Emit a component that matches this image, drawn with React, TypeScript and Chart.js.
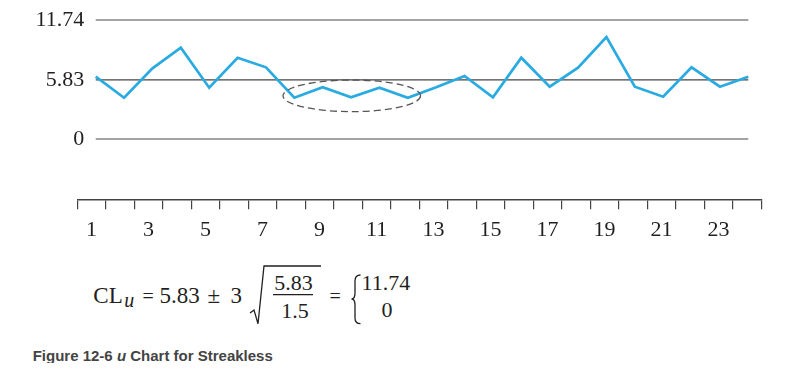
import React, { useEffect, useRef } from "react";
import { Chart, registerables } from "chart.js";

Chart.register(...registerables);

// ---- data ----
const samples = ["1","2","3","4","5","6","7","8","9","10","11","12","13","14","15","16","17","18","19","20","21","22","23","24"];
const uValues = [6.15, 4.07, 6.97, 9.01, 5.06, 8.02, 7.07, 4.07, 5.1, 4.11, 5.06, 4.07, 5.1, 6.22, 4.11, 8.02, 5.16, 7.03, 10.06, 5.16, 4.17, 7.07, 5.16, 6.15];
const centerLine = 5.83;
const upperLimit = 11.74;
const lowerLimit = 0;
const yTickValues = [0, 5.83, 11.74];
const yTickLabels = ["0", "5.83", "11.74"];
// highlighted run (samples 8–12), bounds in data units
const runBox = { xFrom: 7.6, xTo: 12.45, yFrom: 2.7, yTo: 5.82 };

const SERIF = "'Liberation Serif', 'Times New Roman', serif";
const TEXT = "#231f20";

const ellipsePlugin = {
  id: "runEllipse",
  afterDatasetsDraw(chart: any) {
    const xs = chart.scales.xd;
    const ys = chart.scales.y;
    const x1 = xs.getPixelForValue(runBox.xFrom);
    const x2 = xs.getPixelForValue(runBox.xTo);
    const y1 = ys.getPixelForValue(runBox.yTo);
    const y2 = ys.getPixelForValue(runBox.yFrom);
    const ctx = chart.ctx;
    ctx.save();
    ctx.beginPath();
    ctx.setLineDash([7, 4]);
    ctx.lineWidth = 1.3;
    ctx.strokeStyle = "#555";
    ctx.ellipse((x1 + x2) / 2, (y1 + y2) / 2, (x2 - x1) / 2, (y2 - y1) / 2, 0, 0, Math.PI * 2);
    ctx.stroke();
    ctx.restore();
  },
};

function ControlChart() {
  const ref = useRef<HTMLCanvasElement>(null);
  useEffect(() => {
    if (!ref.current) return;
    const first = 1;
    const last = samples.length;
    const hLine = (v: number) => [{ x: first, y: v }, { x: last, y: v }];
    const chart = new Chart(ref.current, {
      type: "line",
      data: {
        labels: samples,
        datasets: [
          {
            label: "u",
            data: uValues.map((v, i) => ({ x: i + 1, y: v })),
            xAxisID: "xd",
            borderColor: "#29abe2",
            borderWidth: 2.7,
            pointRadius: 0,
            tension: 0,
            order: 0,
          },
          {
            label: "CL",
            data: hLine(centerLine),
            xAxisID: "xd",
            borderColor: "#444",
            borderWidth: 1.2,
            pointRadius: 0,
            order: 1,
          },
          {
            label: "UCL",
            data: hLine(upperLimit),
            xAxisID: "xd",
            borderColor: "#a3a3a3",
            borderWidth: 1.8,
            pointRadius: 0,
            order: 2,
          },
          {
            label: "LCL",
            data: hLine(lowerLimit),
            xAxisID: "xd",
            borderColor: "#a3a3a3",
            borderWidth: 1.8,
            pointRadius: 0,
            order: 2,
          },
        ],
      },
      options: {
        animation: false,
        responsive: true,
        maintainAspectRatio: false,
        layout: { padding: { top: 4, right: 27.7, bottom: 4.3, left: 0 } },
        plugins: { legend: { display: false }, tooltip: { enabled: false } },
        scales: {
          x: {
            type: "category",
            position: "bottom",
            offset: true,
            afterFit: (s: any) => {
              s.height = 44.4;
            },
            grid: {
              display: true,
              offset: true,
              drawOnChartArea: false,
              drawTicks: true,
              tickLength: 10,
              color: "#444",
              lineWidth: 1.2,
            },
            border: { display: true, color: "#444", width: 1.5 },
            ticks: {
              autoSkip: false,
              maxRotation: 0,
              padding: 8,
              color: TEXT,
              font: { family: SERIF, size: 22 },
              callback: (_v: any, i: number) => (i % 2 === 0 ? samples[i] : ""),
            },
          },
          xd: {
            type: "linear",
            display: false,
            min: 0.351,
            max: 24.458,
          },
          y: {
            type: "linear",
            min: -5.95,
            max: 12.53,
            grid: { display: false, drawTicks: false, tickLength: 0 },
            border: { display: false },
            afterFit: (s: any) => {
              s.width = 69.3;
            },
            afterBuildTicks: (s: any) => {
              s.ticks = yTickValues.map((v) => ({ value: v }));
            },
            ticks: {
              mirror: true,
              crossAlign: "far",
              padding: -41.8,
              color: TEXT,
              font: { family: SERIF, size: 22 },
              callback: (v: any) => {
                const i = yTickValues.indexOf(Number(v));
                return i >= 0 ? yTickLabels[i] : "";
              },
            },
          },
        },
      },
      plugins: [ellipsePlugin],
    } as any);
    return () => chart.destroy();
  }, []);
  return (
    <div style={{ position: "absolute", left: 0, top: 0, width: 781, height: 240 }}>
      <canvas ref={ref} />
    </div>
  );
}

const abs = (left: number, top: number, size: number, extra: any = {}) => ({
  position: "absolute" as const,
  left: left - 8,
  top: top - 8,
  fontFamily: SERIF,
  fontSize: size,
  lineHeight: 1,
  color: TEXT,
  whiteSpace: "nowrap" as const,
  ...extra,
});

// baseline -> top for line-height 1 in Liberation Serif: baseline = top + 0.8375em
const bt = (baseline: number, size: number) => baseline - 0.8375 * size;

function Formula() {
  const f = 23;
  const g = 22;
  return (
    <>
      <div style={abs(93.3, bt(303.7, f), f)}>
        CL<span style={{ fontStyle: "italic", fontSize: 20, position: "relative", top: 4, marginLeft: 1.5 }}>u</span>
      </div>
      <div style={abs(142.5, bt(302.5, 20), 20)}>=</div>
      <div style={abs(159.5, bt(303.7, f), f)}>5.83</div>
      <div style={abs(207.5, bt(303.7, f), f)}>±</div>
      <div style={abs(230.5, bt(303.7, f), f)}>3</div>
      <svg
        style={{ position: "absolute", left: 240, top: 255, overflow: "visible" }}
        width={140}
        height={80}
      >
        <g transform="translate(-240,-255)">
          {/* radical sign (page coords minus 8) */}
          <polyline
            points="242,305 246,302 250,315.7 256,258 313,258"
            fill="none"
            stroke={TEXT}
            strokeWidth={1.3}
          />
          {/* fraction bar */}
          <line x1={265} y1={286.7} x2={305} y2={286.7} stroke={TEXT} strokeWidth={1.3} />
          {/* brace */}
          <path
            d="M 352.5 267 Q 347 267 347 273 L 347 285 Q 347 291 343.5 291 Q 347 291 347 297 L 347 309.7 Q 347 315.7 352.5 315.7"
            fill="none"
            stroke={TEXT}
            strokeWidth={1.3}
          />
        </g>
      </svg>
      <div style={abs(273.5, bt(290.3, g), g, { width: 40, textAlign: "center" })}>5.83</div>
      <div style={abs(275, bt(318, g), g, { width: 40, textAlign: "center" })}>1.5</div>
      <div style={abs(329.5, bt(302.5, 20), 20)}>=</div>
      <div style={abs(361.5, bt(290.3, g), g)}>11.74</div>
      <div style={abs(381.5, bt(317.5, g), g)}>0</div>
      <div
        style={{
          position: "absolute",
          left: 32.7 - 8,
          top: 347.5 - 8,
          fontFamily: "'Liberation Sans', Arial, sans-serif",
          fontWeight: "bold",
          fontSize: 15,
          lineHeight: 1,
          color: "#444",
          whiteSpace: "nowrap",
        }}
      >
        Figure 12-6 <span style={{ fontStyle: "italic" }}>u</span> Chart for Streakless
      </div>
    </>
  );
}

export default function App() {
  return (
    <div style={{ position: "relative", width: 781, height: 355, background: "#fff" }}>
      <ControlChart />
      <Formula />
    </div>
  );
}
